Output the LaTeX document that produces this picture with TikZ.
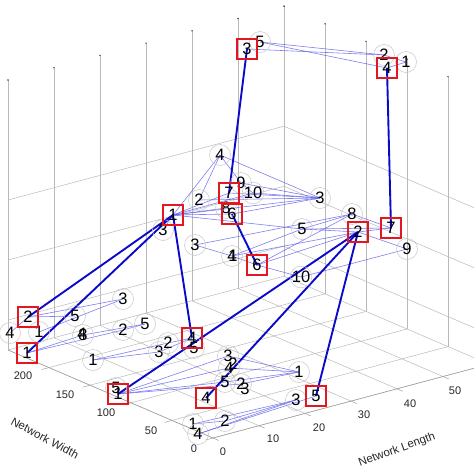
\documentclass[tikz,border=0pt]{standalone}
\usepackage{fontspec}
\setmainfont{Liberation Sans}
\pgfdeclarelayer{gridl}
\pgfdeclarelayer{edgel}
\pgfsetlayers{gridl,edgel,main}
\definecolor{gridc}{RGB}{185,185,185}
\definecolor{thinb}{RGB}{95,95,235}
\definecolor{thickb}{RGB}{10,10,200}
\definecolor{redsq}{RGB}{228,22,30}
\begin{document}
\begin{tikzpicture}[x=1pt,y=-1pt,
  cn/.style={circle,draw=gray!45,line width=0.5pt,minimum size=21pt,inner sep=0pt,font=\fontsize{16.5}{16.5}\selectfont},
  rn/.style={rectangle,draw=redsq,line width=2.2pt,minimum size=20pt,inner sep=0pt,font=\fontsize{16.5}{16.5}\selectfont},
  lb/.style={inner sep=0pt,font=\fontsize{16.5}{16.5}\selectfont},
  tedge/.style={draw=thinb,line width=0.6pt,opacity=0.8},
  kedge/.style={draw=thickb,line width=1.9pt},
  ticklab/.style={inner sep=0pt,font=\fontsize{11}{11}\selectfont,text=black!85},
  axlab/.style={inner sep=0pt,font=\fontsize{11.5}{11.5}\selectfont,text=black!85}]
\useasboundingbox (0,0) rectangle (474,474);
\clip (0,0) rectangle (474,474);
% ---------- grid ----------
\begin{pgfonlayer}{gridl}
\begin{scope}[shift={(213pt,-438pt)},x={(4.6pt,1.23pt)},y={(-0.82pt,0.352pt)},z={(0pt,60pt)},draw=gridc,line width=0.5pt]
  \foreach \L in {0,10,...,60} {
    \draw (\L,0,0) -- (\L,250,0);
    \draw (\L,250,0) -- (\L,250,4.5);
    \fill[black!75] (\L,250,4.5) circle (0.8pt);
  }
  \foreach \W in {0,50,...,250} {
    \draw (0,\W,0) -- (60,\W,0);
    \draw (60,\W,0) -- (60,\W,4.5);
    \fill[black!75] (60,\W,4.5) circle (0.8pt);
  }
  \foreach \Z in {0.5,1.5,2.5} {
    \draw (0,250,\Z) -- (60,250,\Z) -- (60,0,\Z);
  }
  \draw[gray!75] (0,250,0) -- (0,0,0) -- (60,0,0);
  \foreach \L in {0,10,...,50} { \draw[gray!75] (\L,0,0) -- (\L,-7,0); }
  \foreach \W in {0,50,...,200} { \draw[gray!75] (0,\W,0) -- (-1.6,\W,0); }
\end{scope}
\end{pgfonlayer}
% ---------- axis texts ----------
\node[ticklab] (w200) at (23,376) {200};
\node[ticklab] (w150) at (65,395) {150};
\node[ticklab] (w100) at (106,413) {100};
\node[ticklab] (w50) at (151,431) {50};
\node[ticklab] (w0) at (194,449) {0};
\node[ticklab] (l0) at (223,452) {0};
\node[ticklab] (l10) at (273,439) {10};
\node[ticklab] (l20) at (319,428) {20};
\node[ticklab] (l30) at (364,415) {30};
\node[ticklab] (l40) at (410,404) {40};
\node[ticklab] (l50) at (455,391) {50};
\node[axlab,rotate=-28] (wlab) at (45,438) {Network Width};
\node[axlab,rotate=20] (llab) at (397,450) {Network Length};
% ---------- top layer ----------
\node[cn] (t5) at (260,42) {5};
\node[rn] (t3) at (247,49) {3};
\node[cn] (t2) at (384,55) {2};
\node[cn] (t1) at (406,62) {1};
\node[rn] (t4) at (387,68) {4};
% ---------- middle layer ----------
\node[cn] (m4) at (220,155) {4};
\node[cn] (m2) at (199,200) {2};
\node[cn] (m3a) at (163,230) {3};
\node[rn] (m1) at (173,215) {1};
\node[cn] (m9) at (241,183) {9};
\node[cn] (m10) at (253,193) {10};
\node[cn] (m8) at (226,208) {8};
\node[rn] (m7) at (229,193) {7};
\node[rn] (m6) at (232,214) {6};
\node[cn] (m3b) at (320,198) {3};
\node[cn] (m5) at (302,229) {5};
\node[cn] (m3c) at (195,245) {3};
\node[cn] (m41) at (232,256) {4};
\node[lb] (m41x) at (233,256) {1};
\node[rn] (m6b) at (257,265) {6};
\node[cn] (m10b) at (301,277) {10};
\node[cn] (m8b) at (352,214) {8};
\node[rn] (m2r) at (358,232) {2};
\node[rn] (m7r) at (391,228) {7};
\node[cn] (m9b) at (407,249) {9};
% ---------- bottom layer ----------
\node[cn] (b3a) at (123,299) {3};
\node[cn] (b5a) at (75,316) {5};
\node[cn] (b4a) at (10,333) {4};
\node[cn] (b1a) at (39,332) {1};
\node[rn] (b2r) at (28,317) {2};
\node[rn] (b1r) at (27,353) {1};
\node[cn] (b48) at (83,335) {8};
\node[lb] (b48x) at (82,334) {4};
\node[cn] (b2a) at (123,330) {2};
\node[cn] (b5b) at (145,324) {5};
\node[cn] (b1b) at (93,360) {1};
\node[cn] (b3b) at (159,352) {3};
\node[cn] (b2b) at (168,343) {2};
\node[cn] (b5c) at (194,348) {5};
\node[rn] (b4r) at (192,338) {4};
\node[cn] (b5e) at (116,388) {5};
\node[rn] (b51r) at (118,394) {1};
\node[cn] (b3c) at (228,356) {3};
\node[cn] (b42) at (229,368) {4};
\node[lb] (b42x) at (233,364) {2};
\node[cn] (b5d) at (225,382) {5};
\node[cn] (b23) at (241,384) {2};
\node[lb] (b23x) at (245,389) {3};
\node[cn] (b1c) at (299,372) {1};
\node[rn] (b4r2) at (206,398) {4};
\node[cn] (b3d) at (296,400) {3};
\node[rn] (b5r) at (316,396) {5};
\node[cn] (b1d) at (193,424) {1};
\node[cn] (b4d) at (198,434) {4};
\node[cn] (b2d) at (225,421) {2};
% ---------- connectors ----------
\begin{pgfonlayer}{edgel}
\foreach \a/\b in {t5/t2,t3/t2,t5/t4,t2/t1,t4/t1,
  m4/m1,m4/m2,m4/m9,m4/m3b,m2/m3b,m1/m7,m1/m10,m1/m3b,m1/m8,m1/m6,m1/m5,m3a/m1,
  m7/m3b,m9/m3b,m10/m3b,m6/m3b,m9/m10,
  m3c/m41,m3c/m8b,m41/m6b,m41/m2r,m41/m5,m6b/m10b,m6b/m2r,m6b/m8b,
  m5/m8b,m5/m2r,m5/m7r,m10b/m9b,m2r/m9b,m8b/m7r,m2r/m7r,
  b4a/b2r,b2r/b3a,b2r/b5a,b1a/b3a,b1r/b48,b1r/b2a,b48/b5b,b2a/b5b,
  b1b/b3b,b1b/b2b,b3b/b4r,b2b/b4r,
  b51r/b3c,b51r/b42,b51r/b5d,b51r/b23,b3c/b1c,b42/b1c,b23/b1c,b5d/b1c,
  b1d/b2d,b1d/b3d,b4d/b5r,b2d/b3d,b4d/b3d} {
  \draw[tedge] (\a.center) -- (\b.center);
}
\foreach \a/\b in {t3/m7,t4/m7r,m1/b2r,m1/b1r,m1/b4r,m6/m6b,m2r/b51r,m2r/b4r2,m2r/b5r} {
  \draw[kedge] (\a.center) -- (\b.center);
}
\end{pgfonlayer}
\end{tikzpicture}
\end{document}
